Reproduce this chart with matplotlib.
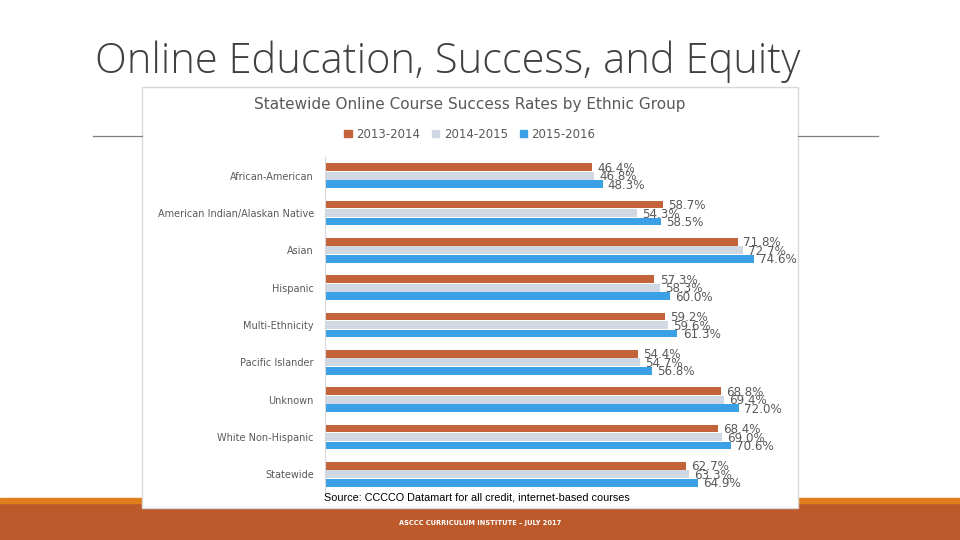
import matplotlib
matplotlib.use("Agg")
import matplotlib.pyplot as plt
from matplotlib.patches import Rectangle, Patch
import numpy as np

groups = ["African-American", "American Indian/Alaskan Native", "Asian", "Hispanic",
          "Multi-Ethnicity", "Pacific Islander", "Unknown", "White Non-Hispanic", "Statewide"]
years = ["2013-2014", "2014-2015", "2015-2016"]
rate_1314 = [46.4, 58.7, 71.8, 57.3, 59.2, 54.4, 68.8, 68.4, 62.7]
rate_1415 = [46.8, 54.3, 72.7, 58.3, 59.6, 54.7, 69.4, 69.0, 63.3]
rate_1516 = [48.3, 58.5, 74.6, 60.0, 61.3, 56.8, 72.0, 70.6, 64.9]
colors = ["#C4623A", "#CFD8E3", "#3BA0E6"]

W, H = 960, 540
fig = plt.figure(figsize=(9.6, 5.4), dpi=100)


def fx(px):
    return px / W


def fy(py):
    return 1 - py / H


# slide decoration
fig.patches.append(Rectangle((0, 0), 1, fy(503), transform=fig.transFigure,
                             color="#BC5A2C", zorder=0))
fig.patches.append(Rectangle((0, fy(503)), 1, 5 / H, transform=fig.transFigure,
                             color="#E07E1C", zorder=0))
fig.lines.append(plt.Line2D([fx(93), fx(142)], [fy(136), fy(136)], transform=fig.transFigure,
                            color="#808080", lw=0.9))
fig.lines.append(plt.Line2D([fx(798), fx(878)], [fy(136), fy(136)], transform=fig.transFigure,
                            color="#808080", lw=0.9))
fig.text(fx(95), fy(73), "Online Education, Success, and Equity", fontsize=30,
         family="Open Sans", weight="light", color="#404040", va="baseline")
fig.text(0.5, fy(523), "ASCCC CURRICULUM INSTITUTE \u2013 JULY 2017", fontsize=4.8,
         color="white", ha="center", va="center", weight="bold")

# chart picture frame
fig.patches.append(Rectangle((fx(142), fy(508)), fx(798) - fx(142), fy(87) - fy(508),
                             transform=fig.transFigure, facecolor="white",
                             edgecolor="#D9D9D9", lw=1, zorder=1))

fig.text(fx(470), fy(105), "Statewide Online Course Success Rates by Ethnic Group",
         fontsize=11, color="#595959", ha="center", va="center", zorder=3)

ax = fig.add_axes([fx(325), fy(493), fx(785) - fx(325), fy(157) - fy(493)])
ax.set_zorder(2)
ax.patch.set_alpha(0)

y = np.arange(len(groups))
off = 0.227
h = 0.21
series = [rate_1314, rate_1415, rate_1516]
for i, (vals, c) in enumerate(zip(series, colors)):
    pos = y + (i - 1) * off
    ax.barh(pos, vals, height=h, color=c)
    for p, v in zip(pos, vals):
        ax.text(v + 0.9, p + 0.03, "%.1f%%" % v, fontsize=8.6, color="#595959",
                va="center", ha="left")

ax.set_xlim(0, 80)
ax.set_ylim(len(groups) - 0.5, -0.5)
ax.set_yticks(y)
ax.set_yticklabels(groups, fontsize=7, color="#595959")
ax.tick_params(axis="y", length=0, pad=8)
ax.set_xticks([])
for s in ["top", "right", "bottom"]:
    ax.spines[s].set_visible(False)
ax.spines["left"].set_color("#D9D9D9")

handles = [Patch(color=c, label=l) for c, l in zip(colors, years)]
fig.legend(handles=handles, loc="center", bbox_to_anchor=(fx(470), fy(134)), ncol=3,
           frameon=False, fontsize=8.5, handlelength=0.6, handleheight=0.6,
           handletextpad=0.4, columnspacing=1.0, labelcolor="#595959")

fig.text(fx(324), fy(498), "Source: CCCCO Datamart for all credit, internet-based courses",
         fontsize=7.8, family="Liberation Sans", color="black", va="center", zorder=3)

fig.savefig("out.png", dpi=100)
